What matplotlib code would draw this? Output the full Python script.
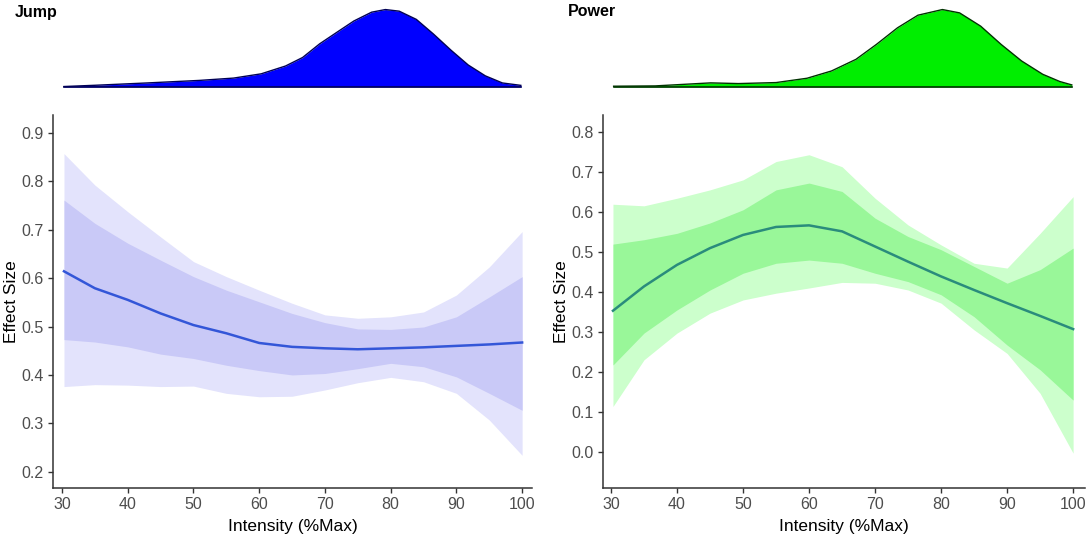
import numpy as np
import matplotlib
matplotlib.use("Agg")
from matplotlib import pyplot as plt

plt.rcParams['font.family'] = ['Liberation Sans', 'DejaVu Sans']

# ---- data ----
x = [30.3, 35, 40, 45, 50, 55, 60, 65, 70, 75, 80, 85, 90, 95, 100]

jump_mean    = [0.614, 0.579, 0.555, 0.527, 0.503, 0.486, 0.466, 0.458, 0.455, 0.453, 0.455, 0.457, 0.460, 0.463, 0.467]
jump_in_hi   = [0.761, 0.713, 0.672, 0.637, 0.603, 0.575, 0.551, 0.527, 0.508, 0.495, 0.494, 0.499, 0.520, 0.561, 0.603]
jump_in_lo   = [0.473, 0.468, 0.458, 0.443, 0.434, 0.420, 0.409, 0.400, 0.403, 0.413, 0.424, 0.417, 0.396, 0.362, 0.327]
jump_out_hi  = [0.857, 0.792, 0.737, 0.685, 0.634, 0.603, 0.575, 0.548, 0.524, 0.517, 0.520, 0.530, 0.565, 0.623, 0.696]
jump_out_lo  = [0.376, 0.380, 0.379, 0.376, 0.377, 0.362, 0.355, 0.356, 0.369, 0.384, 0.395, 0.386, 0.362, 0.307, 0.234]

power_mean   = [0.353, 0.414, 0.468, 0.510, 0.543, 0.563, 0.567, 0.552, 0.514, 0.476, 0.439, 0.405, 0.372, 0.340, 0.307]
power_in_hi  = [0.520, 0.531, 0.547, 0.573, 0.606, 0.656, 0.673, 0.652, 0.585, 0.539, 0.506, 0.464, 0.422, 0.456, 0.510]
power_in_lo  = [0.217, 0.297, 0.355, 0.405, 0.447, 0.472, 0.480, 0.472, 0.447, 0.426, 0.393, 0.338, 0.267, 0.205, 0.129]
power_out_hi = [0.620, 0.616, 0.635, 0.656, 0.681, 0.727, 0.744, 0.714, 0.635, 0.568, 0.518, 0.472, 0.460, 0.547, 0.639]
power_out_lo = [0.113, 0.230, 0.297, 0.347, 0.380, 0.397, 0.410, 0.424, 0.422, 0.405, 0.372, 0.305, 0.246, 0.146, -0.004]

# intensity density (relative height) on top
jump_dx = [30.3, 35.0, 42.9, 50.9, 56.1, 60.3, 64.0, 66.6, 69.2, 71.8, 74.4, 77.1, 79.2, 81.3, 83.9, 86.5, 89.2, 91.8, 94.4, 97.0, 99.8]
jump_dy = [0.005, 0.021, 0.051, 0.084, 0.114, 0.169, 0.270, 0.380, 0.557, 0.705, 0.852, 0.966, 1.0, 0.979, 0.873, 0.684, 0.473, 0.283, 0.143, 0.051, 0.02]
power_dx = [30.4, 36.7, 45.1, 49.3, 55.0, 59.7, 63.4, 67.1, 70.2, 73.4, 76.5, 80.2, 82.8, 86.0, 89.1, 92.2, 95.4, 98.0, 99.8]
power_dy = [0.009, 0.013, 0.052, 0.043, 0.056, 0.112, 0.206, 0.356, 0.549, 0.764, 0.927, 1.0, 0.957, 0.785, 0.549, 0.335, 0.163, 0.069, 0.026]

panels = [
    dict(title='Jump', left=53 / 1090, width=479 / 1090, xlim=(28.63, 101.5), ylim=(0.166, 0.937),
         yticks=[0.2, 0.3, 0.4, 0.5, 0.6, 0.7, 0.8, 0.9],
         mean=jump_mean, in_hi=jump_in_hi, in_lo=jump_in_lo, out_hi=jump_out_hi, out_lo=jump_out_lo,
         dx=jump_dx, dy=jump_dy, out_c='#e3e3fc', in_c='#c9c9f7', line_c='#3356d8',
         dens_c='#0000ff', dens_edge='#000055'),
    dict(title='Power', left=603 / 1090, width=482 / 1090, xlim=(28.79, 101.8), ylim=(-0.092, 0.844),
         yticks=[0.0, 0.1, 0.2, 0.3, 0.4, 0.5, 0.6, 0.7, 0.8],
         mean=power_mean, in_hi=power_in_hi, in_lo=power_in_lo, out_hi=power_out_hi, out_lo=power_out_lo,
         dx=power_dx, dy=power_dy, out_c='#ccffcc', in_c='#99f799', line_c='#2a8c7c',
         dens_c='#00ee00', dens_edge='#003300'),
]

fig = plt.figure(figsize=(10.9, 5.42), dpi=100)

for p in panels:
    ax = fig.add_axes([p['left'], 0.0991, p['width'], 0.689])
    ax.fill_between(x, p['out_lo'], p['out_hi'], color=p['out_c'], lw=0)
    ax.fill_between(x, p['in_lo'], p['in_hi'], color=p['in_c'], lw=0)
    ax.plot(x, p['mean'], color=p['line_c'], lw=1.8)
    ax.set_xlim(*p['xlim'])
    ax.set_ylim(*p['ylim'])
    ax.set_xticks([30, 40, 50, 60, 70, 80, 90, 100])
    ax.set_yticks(p['yticks'])
    ax.set_yticklabels(['%.1f' % v for v in p['yticks']])
    for s in ['top', 'right']:
        ax.spines[s].set_visible(False)
    for s in ['left', 'bottom']:
        ax.spines[s].set_color('#333333')
        ax.spines[s].set_linewidth(1.1)
    ax.tick_params(colors='#333333', labelcolor='#4d4d4d', labelsize=11.5, length=3.5, width=1, pad=3)
    ax.set_xlabel('Intensity (%Max)', fontsize=12.5, color='black')
    ax.set_ylabel('Effect Size', fontsize=12.5, color='black')
    ax.xaxis.set_label_coords(0.5, -0.083)
    ax.yaxis.set_label_coords(-0.07, 0.5)

    # density strip on top
    top = fig.add_axes([p['left'], 1 - 90 / 542, p['width'], 82 / 542])
    top.fill_between(p['dx'], 0, p['dy'], color=p['dens_c'], lw=0)
    top.plot(p['dx'], p['dy'], color=p['dens_edge'], lw=1.0)
    top.plot([p['dx'][0], p['dx'][-1]], [0, 0], color=p['dens_edge'], lw=1.2)
    top.set_xlim(*p['xlim'])
    top.set_ylim(-0.04, 1.02)
    top.axis('off')

fig.text(15 / 1090, 1 - 12 / 542, 'Jump', fontsize=11.5, fontweight='bold', va='center', ha='left')
fig.text(568 / 1090, 1 - 12 / 542, 'Power', fontsize=11.5, fontweight='bold', va='center', ha='left')

plt.savefig('out.png', dpi=100)
plt.close()
